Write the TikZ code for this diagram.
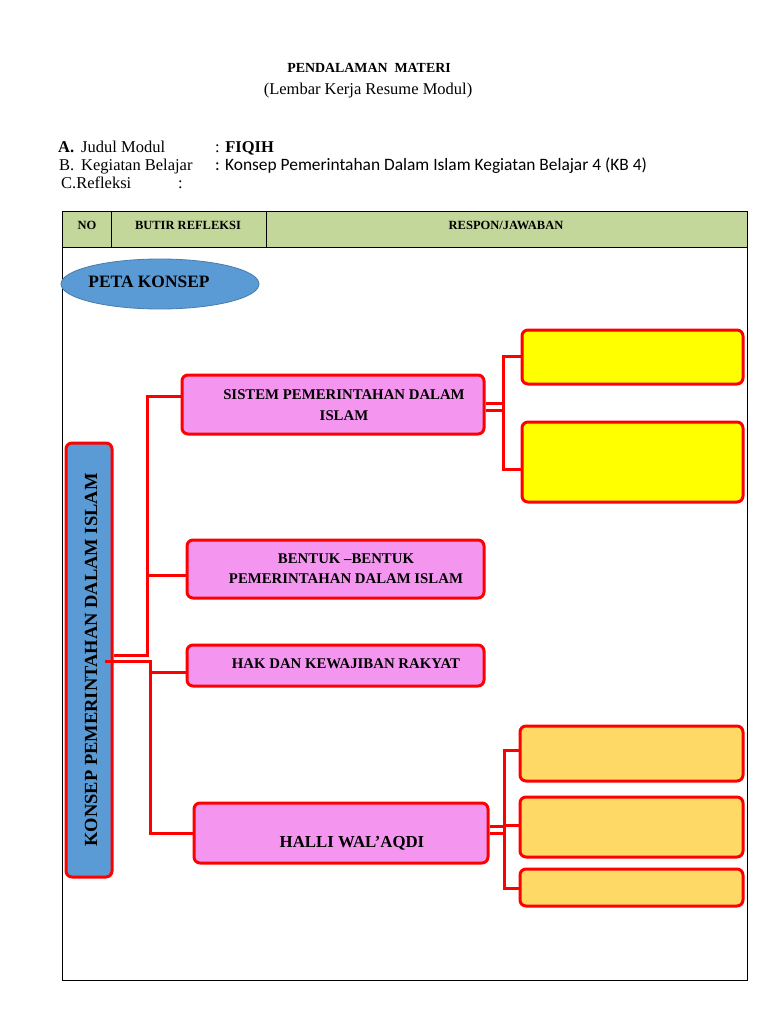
\documentclass[tikz,border=0pt]{standalone}
\usepackage{fontspec}
\setmainfont{Liberation Serif}
\newfontfamily\bodyfont{Carlito}
\usetikzlibrary{shapes.geometric}
\definecolor{hdr}{RGB}{196,215,155}
\definecolor{bluebox}{RGB}{91,155,213}
\definecolor{pinkbox}{RGB}{244,150,240}
\definecolor{ylw}{RGB}{255,255,0}
\definecolor{orng}{RGB}{255,217,102}
\definecolor{rd}{RGB}{255,0,0}
\tikzset{
  box/.style={draw=rd, line width=3pt, rounded corners=6pt, inner sep=0pt, align=center},
  pinkb/.style={box, fill=pinkbox},
  ylwb/.style={box, fill=ylw},
  orgb/.style={box, fill=orng},
  conn/.style={draw=rd, line width=3pt},
  hdrtxt/.style={font=\bfseries\fontsize{12.5}{14}\selectfont},
  info/.style={anchor=base west, inner sep=0pt, font=\fontsize{16.5}{18}\selectfont},
  boxtxt/.style={font=\bfseries\fontsize{14.8}{20.5}\selectfont, align=center},
}
\begin{document}
\begin{tikzpicture}[x=1pt,y=-1pt]
\useasboundingbox (0,0) rectangle (768,1024);
% titles
\node[font=\bfseries\fontsize{13.9}{16}\selectfont] (t1) at (369,68) {PENDALAMAN\ \ MATERI};
\node[font=\fontsize{16.5}{18}\selectfont] (t2) at (368,91) {(Lembar Kerja Resume Modul)};
% info lines
\node[info] (a0) at (58,153) {\textbf{A.}};
\node[info] (a1) at (81,153) {Judul Modul};
\node[info] (a2) at (215,153) {: \textbf{FIQIH}};
\node[info] (b0) at (59,171) {B.};
\node[info] (b1) at (81,171) {Kegiatan Belajar};
\node[info, font=\bodyfont\fontsize{17.4}{18}\selectfont] (b2) at (215,171) {: Konsep Pemerintahan Dalam Islam Kegiatan Belajar 4 (KB 4)};
\node[info] (c1) at (61,189) {C.Refleksi};
\node[info] (c2) at (178,189) {:};
% table
\fill[hdr] (62,211) rectangle (747,247);
\draw[line width=0.8pt] (62,211) rectangle (747,980);
\draw[line width=0.8pt] (62,247) -- (747,247);
\draw[line width=0.8pt] (111,211) -- (111,247);
\draw[line width=0.8pt] (266,211) -- (266,247);
\node[hdrtxt] (h1) at (87,225) {NO};
\node[hdrtxt] (h2) at (188,225) {BUTIR REFLEKSI};
\node[hdrtxt] (h3) at (506,225) {RESPON/JAWABAN};
% ellipse
\node[ellipse, draw=bluebox!80!black, line width=0.8pt, fill=bluebox, minimum width=198pt, minimum height=50pt, inner sep=0pt] (peta) at (160,284) {};
\node[font=\bfseries\fontsize{17.4}{20}\selectfont] (petat) at (149,282) {PETA KONSEP};
% left vertical box
\node[box, fill=bluebox, minimum width=46pt, minimum height=434pt] (root) at (89,660) {};
\node[rotate=90, font=\bfseries\fontsize{18.5}{20}\selectfont] (roott) at (91,660) {KONSEP PEMERINTAHAN DALAM ISLAM};
% pink boxes
\node[pinkb, minimum width=302pt, minimum height=59pt] (p1) at (333,404.5) {};
\node[boxtxt, font=\bfseries\fontsize{14.8}{21}\selectfont] (p1t) at (344,405) {SISTEM PEMERINTAHAN DALAM\\ISLAM};
\node[pinkb, minimum width=297pt, minimum height=58pt] (p2) at (335.5,569) {};
\node[boxtxt, font=\bfseries\fontsize{14.8}{20}\selectfont] (p2t) at (346,569) {BENTUK --BENTUK\\PEMERINTAHAN DALAM ISLAM};
\node[pinkb, minimum width=297pt, minimum height=41pt] (p3) at (335.5,665.5) {};
\node[boxtxt] (p3t) at (346,664) {HAK DAN KEWAJIBAN RAKYAT};
\node[pinkb, minimum width=294pt, minimum height=60pt] (p4) at (341,833) {};
\node[boxtxt, font=\bfseries\fontsize{16.8}{18}\selectfont] (p4t) at (352,843) {HALLI WAL’AQDI};
% yellow boxes
\node[ylwb, minimum width=221pt, minimum height=54pt] (y1) at (632.5,357) {};
\node[ylwb, minimum width=221pt, minimum height=80pt] (y2) at (632.5,462) {};
% orange boxes
\node[orgb, minimum width=223pt, minimum height=55pt] (o1) at (631.5,753.5) {};
\node[orgb, minimum width=223pt, minimum height=60pt] (o2) at (631.5,827) {};
\node[orgb, minimum width=223pt, minimum height=37pt] (o3) at (631.5,887.5) {};
% connectors left
\coordinate (j1) at (147,655);
\coordinate (j2) at (150,661);
\draw[conn] (root.east |- j1) -- (j1) |- (p1.west |- 0,396);
\draw[conn] (147,575) -- (p2.west |- 0,575);
\draw[conn] (105,661) -- (j2) |- (p4.west |- 0,833);
\draw[conn] (150,672) -- (p3.west |- 0,672);
% connectors right top
\coordinate (r1) at (503,403);
\draw[conn] (p1.east |- r1) -- (r1);
\draw[conn] (p1.east |- 0,410) -- (503,410);
\draw[conn] (y1.west |- 0,356) -| (503,469) -- (y2.west |- 0,469);
% connectors right bottom
\coordinate (r2) at (504,826);
\draw[conn] (p4.east |- r2) -- (r2);
\draw[conn] (p4.east |- 0,833) -- (504,833);
\draw[conn] (o1.west |- 0,750) -| (504,888) -- (o3.west |- 0,888);
\draw[conn] (504,825) -- (o2.west |- 0,825);
\end{tikzpicture}
\end{document}
